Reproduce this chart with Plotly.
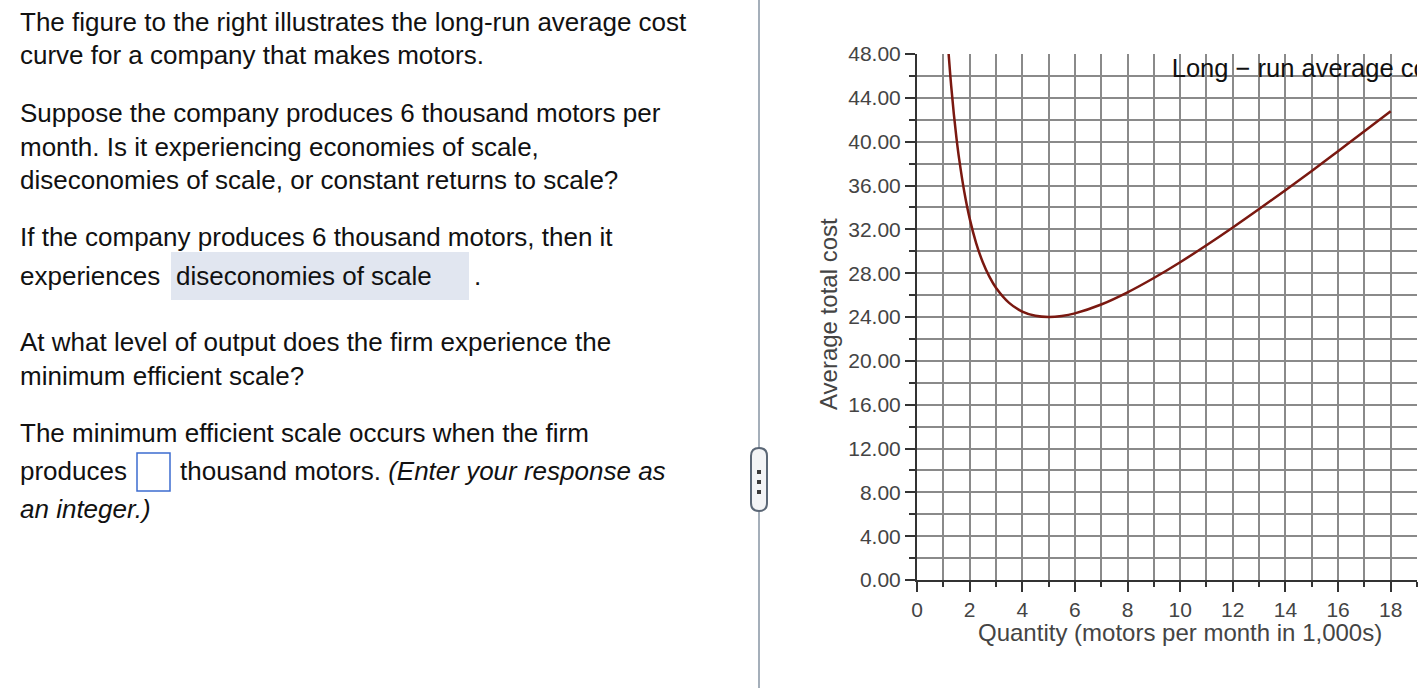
import plotly.graph_objects as go

# ---------------- data ----------------
quantity = [1.2, 1.3, 1.4, 1.5, 1.6, 1.8, 2.0, 2.25, 2.5, 2.75, 3.0, 3.5, 4.0, 4.5,
            5.0, 5.5, 6.0, 7.0, 8.0, 9.0, 10.0, 11.0, 12.0, 13.0, 14.0, 15.0,
            16.0, 17.0, 18.0]
lrac = [48.07, 45.06, 42.51, 40.33, 38.45, 35.38, 33.0, 30.72, 29.0, 27.68, 26.67,
        25.29, 24.5, 24.11, 24.0, 24.09, 24.33, 25.14, 26.25, 27.56, 29.0, 30.55,
        32.17, 33.85, 35.57, 37.33, 39.13, 40.94, 42.78]
curve_label = "Long − run average cost"
curve_label_pos = (9.68, 46.5)
x_title = "Quantity (motors per month in 1,000s)"
y_title = "Average total cost"

left_lines = [
    "The figure to the right illustrates the long-run average cost",
    "curve for a company that makes motors.",
    "Suppose the company produces 6 thousand motors per",
    "month. Is it experiencing economies of scale,",
    "diseconomies of scale, or constant returns to scale?",
    "If the company produces 6 thousand motors, then it",
    "experiences",
    "At what level of output does the firm experience the",
    "minimum efficient scale?",
    "The minimum efficient scale occurs when the firm",
    "produces",
    "<i>an integer.)</i>",
]
left_line_y = [22, 55, 113, 147, 180, 237, 276, 342, 376, 433, 471, 509]
answer_text = "diseconomies of scale"
tail_text = "thousand motors. <i>(Enter your response as</i>"

# ---------------- geometry ----------------
FW, FH = 1426, 688
L, T, R, B = 917, 54, 9, 108
W = FW - L - R
H = FH - T - B
BOT = FH - B


def px(x):
    return (x - L) / W


def py(y):
    return (BOT - y) / H


FONT = "Liberation Sans, Arial, Helvetica, sans-serif"
AX = "#333333"
GRID = "#8a8a8a"
LAB = "#444444"

fig = go.Figure()
fig.add_trace(go.Scatter(
    x=quantity, y=lrac, mode="lines", line=dict(color="#7a1810", width=2.5, shape="spline"),
    hoverinfo="skip", showlegend=False))
fig.add_trace(go.Scatter(
    x=[curve_label_pos[0]], y=[curve_label_pos[1]], mode="text", text=[curve_label],
    textposition="middle right", textfont=dict(family=FONT, size=25.5, color="#111111"),
    cliponaxis=True, hoverinfo="skip", showlegend=False))

annotations = []
for txt, yy in zip(left_lines, left_line_y):
    annotations.append(dict(x=px(18), y=py(yy), xref="paper", yref="paper", text=txt,
                            showarrow=False, xanchor="left", yanchor="middle",
                            font=dict(family=FONT, size=26, color="#111111")))
annotations.append(dict(x=px(174), y=py(276), xref="paper", yref="paper", text=answer_text,
                        showarrow=False, xanchor="left", yanchor="middle",
                        font=dict(family=FONT, size=26, color="#111111")))
annotations.append(dict(x=px(472), y=py(276), xref="paper", yref="paper", text=".",
                        showarrow=False, xanchor="left", yanchor="middle",
                        font=dict(family=FONT, size=26, color="#111111")))
annotations.append(dict(x=px(178), y=py(471), xref="paper", yref="paper", text=tail_text,
                        showarrow=False, xanchor="left", yanchor="middle",
                        font=dict(family=FONT, size=26, color="#111111")))
annotations.append(dict(x=px(1180), y=py(632), xref="paper", yref="paper", text=x_title,
                        showarrow=False, xanchor="center", yanchor="middle",
                        font=dict(family=FONT, size=24, color=LAB)))
annotations.append(dict(x=px(828), y=py(314), xref="paper", yref="paper", text=y_title,
                        showarrow=False, xanchor="center", yanchor="middle", textangle=-90,
                        font=dict(family=FONT, size=24, color=LAB)))

shapes = []
# shaded answer box
shapes.append(dict(type="rect", xref="paper", yref="paper", x0=px(171), x1=px(469),
                   y0=py(300), y1=py(252), fillcolor="#e1e6f0", line=dict(width=0), layer="below"))
# input box
shapes.append(dict(type="rect", xref="paper", yref="paper", x0=px(137), x1=px(170),
                   y0=py(491), y1=py(453), fillcolor="white",
                   line=dict(color="#3d6ccf", width=1.5)))
# divider line
shapes.append(dict(type="line", xref="paper", yref="paper", x0=px(759), x1=px(759),
                   y0=py(0), y1=py(688), line=dict(color="#8795a3", width=1.5)))
# handle pill
x0, x1, y0, y1, r = 751, 767, 448, 511, 8
path = (f"M {px(x0)},{py(y0 + r)} Q {px(x0)},{py(y0)} {px(x0 + r)},{py(y0)} "
        f"Q {px(x1)},{py(y0)} {px(x1)},{py(y0 + r)} L {px(x1)},{py(y1 - r)} "
        f"Q {px(x1)},{py(y1)} {px(x1 - r)},{py(y1)} Q {px(x0)},{py(y1)} {px(x0)},{py(y1 - r)} Z")
shapes.append(dict(type="path", xref="paper", yref="paper", path=path,
                   fillcolor="#f3f4f6", line=dict(color="#5b6776", width=2)))
for dy in (472, 482, 492):
    shapes.append(dict(type="rect", xref="paper", yref="paper", x0=px(757), x1=px(761),
                       y0=py(dy + 2), y1=py(dy - 2), fillcolor="#3a3a3a", line=dict(width=0)))

fig.update_layout(
    width=FW, height=FH, margin=dict(l=L, r=R, t=T, b=B, pad=0),
    paper_bgcolor="white", plot_bgcolor="white",
    font=dict(family=FONT, color=LAB),
    showlegend=False, annotations=annotations, shapes=shapes,
    xaxis=dict(range=[0, 19], tick0=0, dtick=2, ticks="outside", ticklen=10, tickwidth=2,
               tickcolor=AX, showline=True, linecolor=AX, linewidth=2, showgrid=True,
               gridcolor=GRID, gridwidth=1.5, zeroline=False,
               tickfont=dict(family=FONT, size=21, color=LAB),
               minor=dict(dtick=1, tick0=0, ticks="outside", ticklen=5, tickwidth=2,
                          tickcolor=AX, showgrid=True, gridcolor=GRID, gridwidth=1.5),
               fixedrange=True),
    yaxis=dict(range=[0, 48], tick0=0, dtick=4, ticks="outside", ticklen=10, tickwidth=2,
               tickcolor=AX, showline=True, linecolor=AX, linewidth=2, showgrid=True,
               gridcolor=GRID, gridwidth=1.5, zeroline=False, tickformat=".2f",
               tickfont=dict(family=FONT, size=21, color=LAB),
               minor=dict(dtick=2, tick0=0, ticks="outside", ticklen=6, tickwidth=2,
                          tickcolor=AX, showgrid=True, gridcolor=GRID, gridwidth=1.5),
               fixedrange=True),
)

fig.write_html("out.html", config=dict(displayModeBar=False))
